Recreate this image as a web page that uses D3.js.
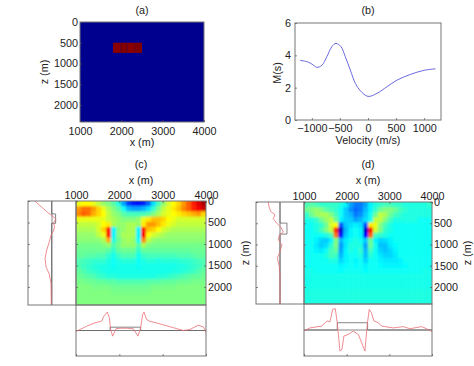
<!DOCTYPE html>
<html>
<head>
<meta charset="utf-8">
<script src="https://cdn.jsdelivr.net/npm/d3@7/dist/d3.min.js"></script>
<style>
  body { margin: 0; background: #fff; }
  svg { display: block; }
  text { font-family: "Liberation Sans", Arial, sans-serif; font-size: 10.8px; fill: #222; }
  .tick text { font-size: 10.8px; fill: #222; }
  .tick line { stroke: #555; stroke-width: 0.7; }
  .domain { display: none; }
</style>
</head>
<body>
<div id="chart"></div>
<script>
// panel (a): true model cells
const modelX = [1800, 1975, 2150, 2325];
const modelZ = [500, 500, 500, 500];
const modelW = [175, 175, 175, 175];
const modelH = [245, 245, 245, 245];
const modelV = [99, 100, 99, 100];

// panel (b): M(s) against velocity
const velocity = [-1209, -1071, -1000, -911, -821, -732, -643, -571, -482, -405, -315, -226, -137, 0, 161, 339, 518, 756, 994, 1202];
const misfit = [3.69, 3.59, 3.46, 3.26, 3.38, 3.92, 4.54, 4.74, 4.54, 3.92, 3.09, 2.27, 1.81, 1.46, 1.65, 2.06, 2.47, 2.82, 3.07, 3.17];

// panel (c): image, values are positions on the jet colour map (0-100)
const heatC = [
  [60,62,62,60,56,52,50,46,40,28,18,14,13,15,22,34,44,52,58,62,66,72,78,84,90,96],
  [72,76,76,72,66,60,54,50,46,38,30,28,28,30,34,42,50,56,60,64,68,74,78,84,88,92],
  [74,78,76,70,66,62,56,52,50,46,44,44,44,44,46,50,54,58,60,62,64,66,68,70,72,66],
  [60,60,60,60,60,60,56,54,52,50,50,50,52,60,64,68,68,66,62,60,58,58,58,58,58,58],
  [56,56,56,56,58,62,64,54,52,52,54,54,52,64,72,72,68,64,60,58,56,56,56,56,56,56],
  [54,54,54,54,58,66,84,36,50,52,54,54,36,84,68,66,62,58,56,54,54,54,54,54,54,54],
  [52,52,52,52,56,60,86,36,50,54,54,54,36,88,62,58,56,54,52,52,52,52,52,52,52,52],
  [51,51,51,51,51,54,70,40,48,52,54,52,38,74,56,52,51,51,51,51,51,51,51,51,51,51],
  [49,49,49,49,49,50,52,45,49,52,52,52,45,54,50,49,49,49,49,49,49,49,49,49,49,49],
  [48,48,48,48,48,48,46,42,47,48,48,48,42,47,47,47,47,47,47,47,47,47,47,48,48,48],
  [47,47,46,46,45,45,42,39,43,45,45,45,39,43,44,44,44,44,44,44,45,45,45,46,47,47],
  [45,44,43,42,42,42,40,38,40,41,41,41,38,40,41,41,40,41,41,41,41,42,42,43,44,45],
  [45,43,42,41,40,40,39,38,39,39,39,39,38,39,39,39,39,39,39,39,40,40,41,42,43,45],
  [47,45,43,42,41,40,39,39,39,39,39,39,39,39,39,39,39,39,39,40,40,41,42,43,45,47],
  [48,47,46,45,43,42,41,41,40,40,40,40,40,40,40,40,41,41,42,43,44,45,46,47,47,48],
  [49,49,48,48,47,47,46,46,45,45,45,45,45,45,46,46,46,47,47,47,48,48,48,49,49,49],
  [50,50,50,49,49,49,49,48,48,48,48,48,48,48,48,49,49,49,49,49,50,50,50,50,50,50],
  [50,50,50,50,50,50,50,49,49,49,49,49,49,49,49,50,50,50,50,50,50,50,50,50,50,50],
  [50,50,50,50,50,50,50,50,50,50,50,50,50,50,50,50,50,50,50,50,50,50,50,50,50,50],
  [50,50,50,50,50,50,50,50,50,50,50,50,50,50,50,50,50,50,50,50,50,50,50,50,50,50]
];

// panel (d): image
const heatD = [
  [44,46,44,42,42,42,42,40,36,28,24,24,28,36,40,42,44,44,42,42,40,40,40,40,40,42],
  [48,50,52,50,46,44,42,38,32,26,22,24,30,36,42,48,50,50,48,44,42,40,40,40,40,40],
  [42,48,52,54,54,50,44,38,32,30,24,26,32,38,48,56,54,48,44,42,40,40,40,40,40,40],
  [40,40,42,48,52,56,48,36,33,32,28,30,34,38,56,56,50,44,40,40,40,40,40,38,38,38],
  [38,38,40,42,48,58,62,20,32,34,36,34,20,64,60,50,44,40,38,38,38,38,38,38,38,38],
  [38,38,40,44,50,56,84,6,30,36,38,36,6,86,58,50,42,40,38,38,38,38,38,38,38,38],
  [38,38,38,38,40,44,76,12,32,36,38,36,12,78,44,42,40,38,38,38,38,38,38,38,38,38],
  [38,38,36,33,32,36,50,30,35,38,40,38,32,48,36,33,34,36,38,38,38,38,38,38,38,38],
  [38,38,35,32,34,41,50,27,35,40,40,40,28,48,39,31,31,35,37,38,38,38,38,38,38,38],
  [38,38,36,35,38,44,47,28,36,40,38,42,30,44,38,33,31,33,36,38,38,38,38,38,38,38],
  [38,38,38,38,40,44,43,30,36,38,38,40,31,41,38,35,33,33,35,38,38,38,38,38,38,38],
  [38,38,38,38,38,40,40,33,36,38,36,38,33,38,38,36,35,35,35,36,38,38,38,38,38,38],
  [38,38,38,38,38,38,38,36,37,38,37,38,36,38,38,37,36,36,36,36,37,38,38,38,38,38],
  [39,39,38,38,38,38,38,37,38,38,38,38,37,38,38,38,38,38,38,38,38,38,38,38,39,39],
  [39,39,39,39,39,39,39,39,39,39,39,39,39,39,39,39,39,39,39,39,39,39,39,39,39,39],
  [39,39,39,39,39,39,39,39,39,39,39,39,39,39,39,39,39,39,39,39,39,39,39,39,39,39],
  [39,39,39,39,39,39,39,39,39,39,39,39,39,39,39,39,39,39,39,39,39,39,39,39,39,39],
  [40,40,40,40,40,40,40,40,40,40,40,40,40,40,40,40,40,40,40,40,40,40,40,40,40,40],
  [40,40,40,40,40,40,40,40,40,40,40,40,40,40,40,40,40,40,40,40,40,40,40,40,40,40],
  [40,40,40,40,40,40,40,40,40,40,40,40,40,40,40,40,40,40,40,40,40,40,40,40,40,40]
];

// side traces left of (c)
const leftDepthC = [0, 109, 248, 341, 419, 512, 597, 698, 791, 947, 1140, 1335, 1529, 1707, 1917, 2420];
const leftAmpC = [-0.71, -0.5, -0.22, -0.01, 0.17, 0.06, 0.11, 0.06, -0.04, -0.11, -0.22, -0.29, -0.25, -0.11, -0.04, -0.03];
const leftModelDepthC = [0, 300, 300, 520, 520, 2420];
const leftModelAmpC = [-0.02, -0.02, 0.15, 0.15, -0.02, -0.02];

// side traces left of (d)
const leftDepthD = [0, 102, 220, 299, 393, 496, 590, 708, 787, 889, 1007, 1165, 1322, 1519, 1716, 2400];
const leftAmpD = [-0.49, -0.46, -0.39, -0.21, -0.28, -0.14, 0.03, 0.14, -0.03, -0.07, 0.08, 0, -0.11, -0.03, 0, 0];
const leftModelDepthD = [0, 496, 496, 755, 755, 2400];
const leftModelAmpD = [0, 0, 0.29, 0.29, 0, 0];

// traces under (c)
const botXC = [1000, 1246, 1438, 1592, 1646, 1723, 1769, 1800, 1846, 1923, 2015, 2169, 2323, 2430, 2492, 2538, 2569, 2630, 2707, 2938, 3246, 3476, 3630, 3822, 3938, 4000];
const botAmpC = [-0.04, 0.17, 0.30, 0.37, 0.57, 0.72, 0.50, 0.04, -0.22, 0.07, 0.09, 0.09, 0.07, -0.22, 0.11, 0.63, 0.72, 0.43, 0.36, 0.26, 0.11, 0, 0.04, 0.21, 0.14, -0.07];
const botModelXC = [1000, 1785, 1785, 2492, 2492, 4000];
const botModelAmpC = [0, 0, 0.13, 0.13, 0, 0];

// traces under (d)
const botXD = [1000, 1140, 1413, 1546, 1608, 1671, 1733, 1780, 1843, 1890, 1936, 2038, 2155, 2272, 2335, 2428, 2483, 2530, 2577, 2639, 2741, 2819, 3092, 3327, 3483, 3756, 3873, 4000];
const botAmpD = [-0.03, 0.08, 0.15, 0.35, 0.31, 0.79, 0.82, 0.28, -0.81, -0.74, -0.23, -0.17, -0.04, -0.17, -0.42, -0.81, 0.22, 0.79, 0.67, 0.35, 0.28, 0.15, 0.08, 0.13, 0.05, 0.13, 0.05, -0.06];
const botModelXD = [1000, 1780, 1780, 2491, 2491, 4000];
const botModelAmpD = [0, 0, 0.28, 0.28, 0, 0];

const xTicks = [1000, 2000, 3000, 4000];
const zTicksA = [0, 500, 1000, 1500, 2000];
const velTicks = [-1000, -500, 0, 500, 1000];
const misfitTicks = [0, 2, 4, 6];

const width = 474, height = 366;
const frameColor = "#777";
const redLine = "#ea6f76";
const blueLine = "#6a6ae0";
const blackLine = "#666";

const svg = d3.select("#chart").append("svg")
  .attr("width", width)
  .attr("height", height);

const defs = svg.append("defs");
defs.append("filter").attr("id", "soft")
  .attr("x", "-10%").attr("y", "-10%").attr("width", "120%").attr("height", "120%")
  .append("feGaussianBlur").attr("stdDeviation", 1.2);
defs.append("filter").attr("id", "softA")
  .append("feGaussianBlur").attr("stdDeviation", 0.6);

// jet colour map
const jet = d3.scaleLinear()
  .domain([0, 12, 37, 50, 62, 87, 100])
  .range(["#00008f", "#0000ff", "#00ffff", "#80ff80", "#ffff00", "#ff0000", "#800000"])
  .clamp(true);

function label(x, y, str, rotate) {
  const t = svg.append("text")
    .attr("text-anchor", "middle")
    .text(str);
  if (rotate) t.attr("transform", `translate(${x},${y}) rotate(-90)`);
  else t.attr("x", x).attr("y", y);
}

function frame(x, y, w, h) {
  svg.append("rect")
    .attr("x", x).attr("y", y).attr("width", w).attr("height", h)
    .attr("fill", "none")
    .attr("stroke", frameColor)
    .attr("stroke-width", 1);
}

function trace(g, xs, ys, xScale, yScale, color, sw, curve) {
  const line = d3.line().curve(curve || d3.curveLinear).x(d => xScale(d[0])).y(d => yScale(d[1]));
  g.append("path")
    .attr("d", line(xs.map((v, i) => [v, ys[i]])))
    .attr("fill", "none")
    .attr("stroke", color)
    .attr("stroke-width", sw);
}

// ---- (a)
let xA = d3.scaleLinear().domain([1000, 4000]).range([80, 204]);
let zA = d3.scaleLinear().domain([0, 2410]).range([22, 122]);

svg.append("rect")
  .attr("x", 80).attr("y", 22).attr("width", 124).attr("height", 100)
  .attr("fill", jet(0));
svg.append("g").attr("filter", "url(#softA)")
  .selectAll("rect").data(modelX).enter().append("rect")
  .attr("x", d => xA(d))
  .attr("y", (d, i) => zA(modelZ[i]))
  .attr("width", (d, i) => xA(d + modelW[i]) - xA(d))
  .attr("height", (d, i) => zA(modelZ[i] + modelH[i]) - zA(modelZ[i]))
  .attr("fill", (d, i) => jet(modelV[i]));
frame(80, 22, 124, 100);

svg.append("g").attr("transform", "translate(0,122)")
  .call(d3.axisBottom(xA).tickValues(xTicks).tickFormat(d3.format("d")).tickSize(-2).tickPadding(5));
svg.append("g").attr("transform", "translate(80,0)")
  .call(d3.axisLeft(zA).tickValues(zTicksA).tickFormat(d3.format("d")).tickSize(-2).tickPadding(2));
label(142, 14, "(a)");
label(142, 146, "x (m)");
label(48, 72, "z (m)", true);

// ---- (b)
let xB = d3.scaleLinear().domain([-1300, 1300]).range([295, 441]);
let yB = d3.scaleLinear().domain([0, 6]).range([120, 23]);

frame(295, 23, 146, 97);
trace(svg.append("g"), velocity, misfit, xB, yB, blueLine, 1, d3.curveCatmullRom);

svg.append("g").attr("transform", "translate(0,120)")
  .call(d3.axisBottom(xB).tickValues(velTicks).tickFormat(d3.format("d")).tickSize(-2).tickPadding(4));
svg.append("g").attr("transform", "translate(295,0)")
  .call(d3.axisLeft(yB).tickValues(misfitTicks).tickFormat(d3.format("d")).tickSize(-2).tickPadding(4));
label(368, 14, "(b)");
label(368, 144, "Velocity (m/s)");
label(281, 73, "M(s)", true);

// ---- (c) and (d)
function heatPanel(opt) {
  const left = opt.left, right = opt.right, top = opt.top, bottom = opt.bottom;
  const data = opt.heat;
  const cols = d3.range(data[0].length);
  const rows = d3.range(data.length);
  const colBand = d3.scaleBand().domain(cols).range([left, right]);
  const rowBand = d3.scaleBand().domain(rows).range([top, bottom]);
  const x = d3.scaleLinear().domain([1000, 4000]).range([left, right]);
  const z = d3.scaleLinear().domain([0, opt.zMax]).range([top, bottom]);

  const clipId = "clip" + opt.name;
  defs.append("clipPath").attr("id", clipId).append("rect")
    .attr("x", left).attr("y", top).attr("width", right - left).attr("height", bottom - top);

  // outer cells run past the frame so the blur does not fade at the edge
  const pad = 8;
  const cells = svg.append("g").attr("clip-path", `url(#${clipId})`)
    .append("g").attr("filter", "url(#soft)");
  rows.forEach(r => {
    cells.selectAll(null).data(cols).enter().append("rect")
      .attr("x", c => colBand(c) - (c === 0 ? pad : 0))
      .attr("y", rowBand(r) - (r === 0 ? pad : 0))
      .attr("width", c => colBand.bandwidth() + 0.5 + (c === 0 || c === cols.length - 1 ? pad : 0))
      .attr("height", rowBand.bandwidth() + 0.5 + (r === 0 || r === rows.length - 1 ? pad : 0))
      .attr("fill", c => jet(data[r][c]));
  });

  frame(left, top, right - left, bottom - top);

  svg.append("g").attr("transform", `translate(0,${top})`)
    .call(d3.axisTop(x).tickValues(xTicks).tickFormat(d3.format("d")).tickSize(-2).tickPadding(2));
  svg.append("g").attr("transform", `translate(${right},0)`)
    .call(d3.axisRight(z).tickValues(zTicksA).tickFormat(d3.format("d")).tickSize(-2).tickPadding(2));
  svg.append("g").attr("transform", `translate(${left},0)`)
    .call(d3.axisLeft(z).tickValues(zTicksA).tickFormat("").tickSize(-2));

  // left strip
  const ampL = d3.scaleLinear().domain([-1, 1]).range([opt.stripLeft, left]);
  const gL = svg.append("g");
  gL.append("line")
    .attr("x1", ampL(0)).attr("x2", ampL(0)).attr("y1", top).attr("y2", bottom)
    .attr("stroke", blackLine).attr("stroke-width", 0.8);
  trace(gL, opt.leftModelAmp, opt.leftModelDepth, ampL, z, blackLine, 0.8);
  trace(gL, opt.leftAmp, opt.leftDepth, ampL, z, redLine, 0.8);
  frame(opt.stripLeft, top, left - opt.stripLeft, bottom - top);
  svg.append("g").attr("transform", `translate(${opt.stripLeft},0)`)
    .call(d3.axisLeft(z).tickValues(zTicksA).tickFormat("").tickSize(-2));

  // bottom strip
  const ampB = d3.scaleLinear().domain([-1, 1]).range([opt.stripBottom, bottom]);
  const gB = svg.append("g");
  gB.append("line")
    .attr("x1", left).attr("x2", right).attr("y1", ampB(0)).attr("y2", ampB(0))
    .attr("stroke", blackLine).attr("stroke-width", 0.8);
  trace(gB, opt.botModelX, opt.botModelAmp, x, ampB, blackLine, 0.8);
  trace(gB, opt.botX, opt.botAmp, x, ampB, redLine, 0.8);
  frame(left, bottom, right - left, opt.stripBottom - bottom);
  svg.append("g").attr("transform", `translate(0,${opt.stripBottom})`)
    .call(d3.axisBottom(x).tickValues(xTicks).tickFormat("").tickSize(-2));

  const mid = (left + right) / 2;
  label(mid, 168, opt.title);
  label(mid, 184, "x (m)");
  label(opt.zLabelX, 253, "z (m)", true);
}

heatPanel({
  name: "C", title: "(c)", heat: heatC, left: 76, right: 206, top: 201, bottom: 305,
  zMax: 2420, stripLeft: 28, stripBottom: 356, zLabelX: 249,
  leftDepth: leftDepthC, leftAmp: leftAmpC,
  leftModelDepth: leftModelDepthC, leftModelAmp: leftModelAmpC,
  botX: botXC, botAmp: botAmpC, botModelX: botModelXC, botModelAmp: botModelAmpC
});

heatPanel({
  name: "D", title: "(d)", heat: heatD, left: 304, right: 432, top: 202, bottom: 304,
  zMax: 2400, stripLeft: 256, stripBottom: 356, zLabelX: 471,
  leftDepth: leftDepthD, leftAmp: leftAmpD,
  leftModelDepth: leftModelDepthD, leftModelAmp: leftModelAmpD,
  botX: botXD, botAmp: botAmpD, botModelX: botModelXD, botModelAmp: botModelAmpD
});
</script>
</body>
</html>
